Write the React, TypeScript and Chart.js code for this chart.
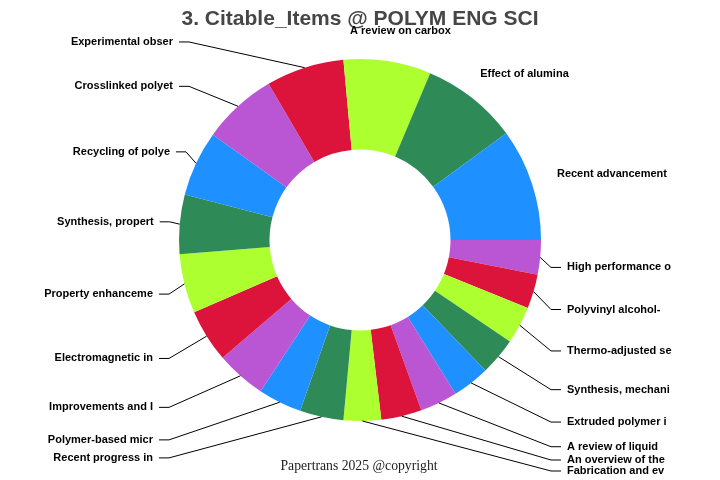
import { useEffect, useRef } from "react";
import { Chart, registerables } from "chart.js";

Chart.register(...registerables);

const TITLE = "3. Citable_Items @ POLYM ENG SCI";
const FOOTER = "Papertrans 2025 @copyright";

// Paper titles (as truncated in the chart), in data order
const categories = [
  "Recent advancement",
  "Effect of alumina",
  "A review on carbox",
  "Experimental obser",
  "Crosslinked polyet",
  "Recycling of polye",
  "Synthesis, propert",
  "Property enhanceme",
  "Electromagnetic in",
  "Improvements and I",
  "Polymer-based micr",
  "Recent progress in",
  "Fabrication and ev",
  "An overview of the",
  "A review of liquid",
  "Extruded polymer i",
  "Synthesis, mechani",
  "Thermo-adjusted se",
  "Polyvinyl alcohol-",
  "High performance o",
];

// Citable items per paper
const citableItems = [36, 31, 28, 25, 24, 21, 19, 19, 17, 16, 14, 14, 12, 13, 12, 12, 12, 12, 11, 11];

const palette = ["#1E90FF", "#2E8B57", "#ADFF2F", "#DC143C", "#BA55D3"];

const LABEL_FONT = 'bold 11px "Liberation Sans", Arial, sans-serif';

const labelPlugin = {
  id: "pieOuterLabels",
  afterDraw(chart: any) {
    const ctx = chart.ctx as CanvasRenderingContext2D;
    const W = chart.width;
    const H = chart.height;
    // title
    ctx.save();
    ctx.font = 'bold 21px "Liberation Sans", Arial, sans-serif';
    ctx.fillStyle = "#464646";
    ctx.textAlign = "center";
    ctx.textBaseline = "alphabetic";
    ctx.fillText(TITLE, W / 2, 25);
    // footer
    ctx.font = '13.7px "Liberation Serif", "Times New Roman", serif';
    ctx.fillStyle = "#222";
    ctx.fillText(FOOTER, W / 2 - 1, 470);
    ctx.restore();

    const meta = chart.getDatasetMeta(0);
    const labels = chart.data.labels as string[];
    const items: any[] = meta.data.map((arc: any, i: number) => {
      const p = arc.getProps(["x", "y", "startAngle", "endAngle", "outerRadius"], true);
      const mid = (p.startAngle + p.endAngle) / 2;
      const c = Math.cos(mid);
      const s = Math.sin(mid);
      const R = p.outerRadius;
      const ax = p.x + R * c;
      const ay = p.y + R * s;
      const it: any = { text: labels[i], cx: p.x, cy: p.y, R, c, s, ax, ay };
      if (c >= 0 && s < 0) {
        it.kind = "free";
        it.x = p.x + (R + 84) * c;
        it.y = p.y + (R + 31) * s;
      } else if (c < 0) {
        it.kind = "left";
        if (s < 0) {
          it.y = p.y + (R + 27) * s;
          it.ex = Math.min(p.x - R + 10, ax - 10);
        } else {
          it.y = p.y + (R + 42) * s;
          it.ex = p.x - R - 10;
        }
      } else {
        it.kind = "right";
        it.y = p.y + 6 + (R + 42) * s;
        it.ex = p.x + R + 10;
      }
      return it;
    });

    const maxY = H - 9;
    const spread = (list: any[]) => {
      list.sort((a, b) => a.y - b.y);
      for (let i = 1; i < list.length; i++) {
        if (list[i].y < list[i - 1].y + 11) list[i].y = list[i - 1].y + 11;
      }
      const n = list.length;
      if (n && list[n - 1].y > maxY) {
        list[n - 1].y = maxY;
        for (let i = n - 2; i >= 0; i--) {
          if (list[i].y > list[i + 1].y - 11) list[i].y = list[i + 1].y - 11;
        }
      }
    };
    spread(items.filter((d) => d.kind === "left"));
    spread(items.filter((d) => d.kind === "right"));

    ctx.save();
    ctx.font = LABEL_FONT;
    ctx.textBaseline = "middle";
    ctx.strokeStyle = "#000";
    ctx.fillStyle = "#000";
    ctx.lineWidth = 1;
    for (const it of items) {
      if (it.kind === "free") {
        ctx.textAlign = "center";
        ctx.fillText(it.text, it.x, it.y);
        continue;
      }
      const dir = it.kind === "left" ? -1 : 1;
      const endX = it.ex + dir * 10;
      ctx.beginPath();
      ctx.moveTo(it.ax, it.ay);
      ctx.lineTo(it.ex, it.y);
      ctx.lineTo(endX, it.y);
      ctx.stroke();
      ctx.textAlign = dir < 0 ? "right" : "left";
      ctx.fillText(it.text, endX + dir * 6, it.y);
    }
    ctx.restore();
  },
};

export default function App() {
  const ref = useRef<HTMLCanvasElement | null>(null);
  useEffect(() => {
    if (!ref.current) return;
    const order = categories.map((_, i) => i).reverse();
    const chart = new Chart(ref.current, {
      type: "doughnut",
      data: {
        labels: order.map((i) => categories[i]),
        datasets: [
          {
            data: order.map((i) => citableItems[i]),
            backgroundColor: order.map((i) => palette[i % palette.length]),
            borderWidth: 0,
            hoverOffset: 0,
          },
        ],
      },
      options: {
        responsive: false,
        animation: false,
        devicePixelRatio: 1,
        rotation: 90,
        radius: 181,
        cutout: "50%",
        layout: { padding: 0 },
        plugins: {
          legend: { display: false },
          tooltip: { enabled: false },
          title: { display: false },
        },
        events: [],
      },
      plugins: [labelPlugin],
    });
    return () => chart.destroy();
  }, []);
  return (
    <div style={{ position: "fixed", left: 0, top: 0, width: 720, height: 480, background: "#fff" }}>
      <canvas ref={ref} width={720} height={480} style={{ width: 720, height: 480 }} />
    </div>
  );
}
